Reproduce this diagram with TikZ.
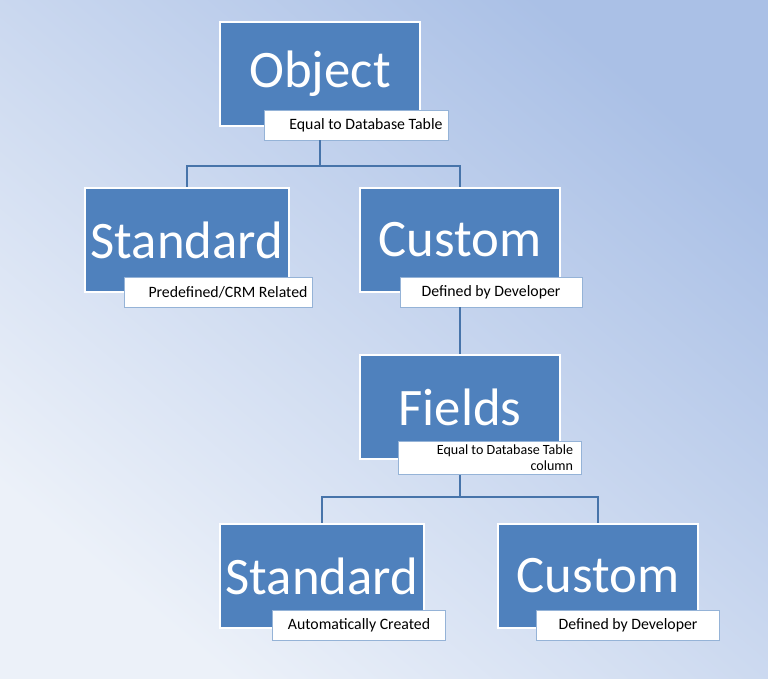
\documentclass[tikz,border=0pt]{standalone}
\usepackage{fontspec}
\setmainfont{Carlito}
\usetikzlibrary{positioning}
\definecolor{boxblue}{RGB}{79,129,189}
\definecolor{bgtop}{RGB}{170,192,230}
\definecolor{bglow}{RGB}{236,241,249}
\tikzset{
  bigbox/.style={draw=white, line width=1.2pt, fill=boxblue, text=white,
    minimum width=4cm, minimum height=2.08cm, font=\fontsize{30}{30}\selectfont},
  subbox/.style={draw=boxblue!60, fill=white, minimum height=0.6cm,
    font=\fontsize{9}{9.5}\selectfont, align=right, inner sep=2pt},
  link/.style={draw=boxblue!90!black, line width=1.3pt}
}
\begin{document}
\begin{tikzpicture}[x=0.02cm, y=-0.02cm]
		\useasboundingbox[top color=bgtop, bottom color=bglow, shading angle=-40] (0,0) rectangle (768,679);
		% object level
		\node[bigbox] (obj) at (320,74) {Object};
		\node[subbox, minimum width=3.68cm] (objnote) at (356,125) {\hspace{0.4cm}Equal to Database Table};
		\node[bigbox] (std) at (187,240) {Standard};
		\node[subbox, minimum width=3.76cm] (stdnote) at (218,292) {\hspace{0.4cm}Predefined/CRM Related};
		\node[bigbox] (cus) at (460,240) {Custom};
		\node[subbox, minimum width=3.64cm] (cusnote) at (491,292) {Defined by Developer};
		% field level
		\node[bigbox] (fld) at (460,407) {Fields};
		\node[subbox, minimum width=3.66cm, minimum height=0.66cm, font=\fontsize{8}{9}\selectfont] (fldnote) at (490,458) {\hspace{0.6cm}Equal to Database Table\\column};
		\node[bigbox] (fstd) at (322,576) {Standard};
		\node[subbox, minimum width=3.46cm] (fstdnote) at (359,625) {Automatically Created};
		\node[bigbox] (fcus) at (598,576) {Custom};
		\node[subbox, minimum width=3.66cm] (fcusnote) at (628,625) {Defined by Developer};
		% connectors
		\coordinate (j1) at (320,166);
		\coordinate (j2) at (460,497);
		\draw[link] (obj.south |- objnote.south) -- (j1);
		\draw[link] (std.north) |- (j1) -| (cus.north);
		\draw[link] (cus.south |- cusnote.south) -- (fld.north);
		\draw[link] (fld.south |- fldnote.south) -- (j2);
		\draw[link] (fstd.north) |- (j2) -| (fcus.north);
	\end{tikzpicture}
\end{document}
